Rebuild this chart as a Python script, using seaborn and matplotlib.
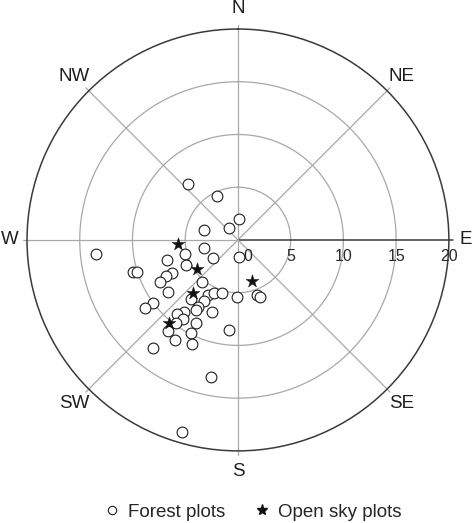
import numpy as np
import pandas as pd
import matplotlib.pyplot as plt
import seaborn as sns
from matplotlib.lines import Line2D
from matplotlib.transforms import offset_copy

# azimuth in degrees (clockwise from north) and distance
forest_az = [318.1, 334.3, 3.7, 322.6, 285.9, 264.4, 257.3, 254.8, 234.1, 177.9,
             253.9, 244.0, 253.2, 252.5, 243.5, 243.6, 241.8, 221.0, 233.6, 208.9,
             203.9, 196.5, 181.4, 161.0, 158.7, 218.4, 209.1, 233.2, 233.7, 210.7,
             211.1, 216.7, 219.4, 199.5, 214.6, 216.9, 206.9, 217.5, 207.1, 185.9,
             212.2, 203.6, 218.4, 191.0, 196.2]
forest_r = [7.14, 4.66, 2.02, 1.40, 3.35, 13.53, 3.33, 5.20, 2.96, 1.61,
            6.97, 5.48, 10.36, 10.00, 6.95, 7.61, 8.35, 5.24, 8.25, 5.95,
            5.53, 5.24, 5.37, 5.54, 5.83, 7.17, 6.62, 10.02, 10.94, 7.35,
            7.76, 8.51, 9.07, 7.28, 9.13, 9.80, 8.79, 10.91, 9.86, 8.58,
            11.20, 10.80, 13.03, 13.23, 18.98]

sky_az = [266.2, 234.7, 160.5, 220.6, 219.5]
sky_r = [5.73, 4.81, 4.08, 6.57, 10.24]

compass = ['N', 'NE', 'E', 'SE', 'S', 'SW', 'W', 'NW']
compass_deg = [0, 45, 90, 135, 180, 225, 270, 315]
rings = [5, 10, 15]
ring_ticks = [0, 5, 10, 15, 20]
ring_labels = ['0', '5', '10', '15', '20']

sns.set_style('white')
plt.rcParams['font.family'] = ['Liberation Sans', 'DejaVu Sans']

forest = pd.DataFrame({'theta': np.deg2rad(forest_az), 'r': forest_r})
sky = pd.DataFrame({'theta': np.deg2rad(sky_az), 'r': sky_r})

fig = plt.figure(figsize=(4.74, 5.23), dpi=100)
ax = fig.add_axes([0.057, 0.1377, 0.890, 0.807], projection='polar')
ax.set_theta_zero_location('N')
ax.set_theta_direction(-1)
ax.set_ylim(0, 20)
ax.set_xticks([])
ax.set_yticks([])
ax.grid(False)
ax.spines['polar'].set_color('#3a3a3a')
ax.spines['polar'].set_linewidth(1.1)

grey = '#a8a8a8'
full = np.linspace(0, 2 * np.pi, 400)
for r in rings:
    ax.plot(full, np.full_like(full, r), color=grey, lw=0.9, zorder=1)
for d in compass_deg:
    th = np.deg2rad(d)
    ax.plot([th, th], [0, 20.4], color='#3a3a3a' if d == 90 else grey,
            lw=1.1 if d == 90 else 0.9, clip_on=False, zorder=1)

sns.scatterplot(data=forest, x='theta', y='r', ax=ax, marker='o', s=60,
                color='white', edgecolor='#1e1e1e', linewidth=0.8,
                zorder=3, clip_on=False)
sns.scatterplot(data=sky, x='theta', y='r', ax=ax, marker='*', s=95,
                color='#111111', edgecolor='#111111', linewidth=0.3,
                zorder=4, clip_on=False)
ax.set_xlabel('')
ax.set_ylabel('')

for lab, d in zip(compass, compass_deg):
    rr = 21.6 if d in (90, 270) else 21.95
    ax.text(np.deg2rad(d), rr, lab, ha='center', va='center',
            fontsize=13.5, color='#1e1e1e', clip_on=False)

for lab, r in zip(ring_labels, ring_ticks):
    dx = 10 if r == 0 else 0
    tr = offset_copy(ax.transData, fig=fig, x=dx, y=-17, units='dots')
    ax.text(np.pi / 2, r, lab, transform=tr, ha='center', va='center',
            fontsize=11.5, color='#2a2a2a', clip_on=False)

handles = [
    Line2D([], [], marker='o', ls='', ms=6, mfc='white', mec='#1e1e1e', mew=0.8),
    Line2D([], [], marker='*', ls='', ms=8, mfc='#111111', mec='#111111'),
]
fig.legend(handles, ['Forest plots', 'Open sky plots'], loc='center',
           bbox_to_anchor=(0.532, 0.021), ncol=2, frameon=False,
           fontsize=13.5, handletextpad=0.35, columnspacing=1.5,
           handlelength=1.0)

fig.savefig('out.png', dpi=100, facecolor='white')
